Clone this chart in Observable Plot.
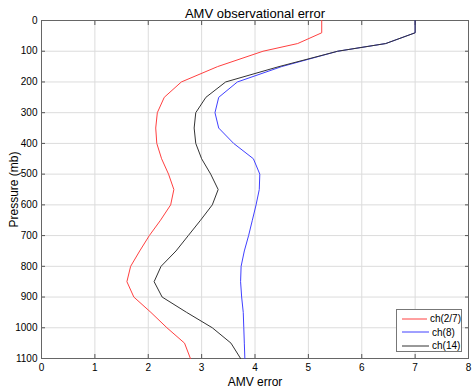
<!DOCTYPE html>
<html><head><meta charset="utf-8">
<script src="https://cdn.jsdelivr.net/npm/d3@7"></script>
<script src="https://cdn.jsdelivr.net/npm/@observablehq/plot@0.6"></script>
<style>
body{margin:0;background:#fff;font-family:"Liberation Sans",Arial,sans-serif;}
#wrap{position:relative;width:474px;height:388px;}
#legend{position:absolute;left:396px;top:309px;width:66px;height:43px;border:1px solid #777;background:#fff;font-size:10px;color:#000;box-sizing:border-box;padding-top:2px;}
#legend .row{display:flex;align-items:center;height:13.5px;}
#legend svg{margin-left:5px;margin-right:3px;}
</style></head>
<body><div id="wrap"></div>
<script>
const pressure = [0,40,75,100,150,200,250,300,350,400,450,500,550,600,650,700,750,800,850,900,950,1000,1050,1100];
const ch27 = [5.25,5.25,4.8,4.15,3.3,2.62,2.3,2.17,2.14,2.16,2.25,2.38,2.48,2.42,2.23,2.02,1.84,1.67,1.6,1.73,2.05,2.35,2.68,2.79];
const ch8  = [7.0,7.0,6.45,5.55,4.5,3.67,3.32,3.25,3.32,3.6,3.97,4.09,4.08,4.02,3.95,3.88,3.8,3.74,3.73,3.75,3.78,3.79,3.8,3.81];
const ch14 = [7.0,7.0,6.45,5.55,4.45,3.45,3.08,2.89,2.86,2.89,3.0,3.17,3.31,3.2,2.98,2.75,2.52,2.24,2.11,2.26,2.72,3.2,3.55,3.73];
const seriesNames = ["ch(2/7)","ch(8)","ch(14)"];
const seriesColors = ["#ff4040","#4040ff","#333333"];
const xTicks = [0,1,2,3,4,5,6,7,8];
const yTicks = [0,100,200,300,400,500,600,700,800,900,1000,1100];

const allSeries = [ch27, ch8, ch14];
const data = [];
allSeries.forEach((vals, i) => vals.forEach((v, j) => data.push({series: seriesNames[i], error: v, p: pressure[j]})));

const chart = Plot.plot({
  width: 474, height: 388,
  marginLeft: 41, marginRight: 6, marginTop: 20, marginBottom: 30,
  style: {fontFamily: "'Liberation Sans', Arial, sans-serif", fontSize: "10px", color: "#000", background: "#fff"},
  x: {domain: [0, 8]},
  y: {domain: [0, 1100], reverse: true},
  color: {domain: seriesNames, range: seriesColors},
  marks: [
    Plot.gridX(xTicks, {stroke: "#dcdcdc", strokeOpacity: 1}),
    Plot.gridY(yTicks, {stroke: "#dcdcdc", strokeOpacity: 1}),
    Plot.axisX(xTicks, {anchor: "bottom", tickSize: 0, tickPadding: 5, fontSize: 10, tickFormat: d => String(d), label: "AMV error", labelAnchor: "center", labelOffset: 27, labelArrow: "none"}),
    Plot.axisX(xTicks, {anchor: "bottom", tickSize: -4, tickFormat: () => "", label: null, stroke: "#555"}),
    Plot.axisX(xTicks, {anchor: "top", tickSize: -4, tickFormat: () => "", label: null, stroke: "#555"}),
    Plot.axisY(yTicks, {anchor: "left", tickSize: 0, tickPadding: 4, fontSize: 10, tickFormat: d => String(d), label: "Pressure (mb)", labelAnchor: "center", labelOffset: 32, labelArrow: "none"}),
    Plot.axisY(yTicks, {anchor: "left", tickSize: -4, tickFormat: () => "", label: null, stroke: "#555"}),
    Plot.axisY(yTicks, {anchor: "right", tickSize: -4, tickFormat: () => "", label: null, stroke: "#555"}),
    Plot.frame({stroke: "#666"}),
    Plot.line(data, {x: "error", y: "p", z: "series", stroke: "series", strokeWidth: 1}),
    Plot.text(["AMV observational error"], {frameAnchor: "top", dy: -12, fontSize: 13, text: d => d})
  ]
});
chart.querySelectorAll('[aria-label="x-axis label"] text, [aria-label="y-axis label"] text').forEach(t => t.setAttribute("font-size", "12"));
const wrap = document.getElementById("wrap");
wrap.appendChild(chart);

const legend = document.createElement("div");
legend.id = "legend";
seriesNames.forEach((name, i) => {
  const row = document.createElement("div");
  row.className = "row";
  row.innerHTML = `<svg width="27" height="4"><line x1="0" x2="27" y1="2" y2="2" stroke="${seriesColors[i]}" stroke-width="1"/></svg><span>${name}</span>`;
  legend.appendChild(row);
});
wrap.appendChild(legend);
</script></body></html>
